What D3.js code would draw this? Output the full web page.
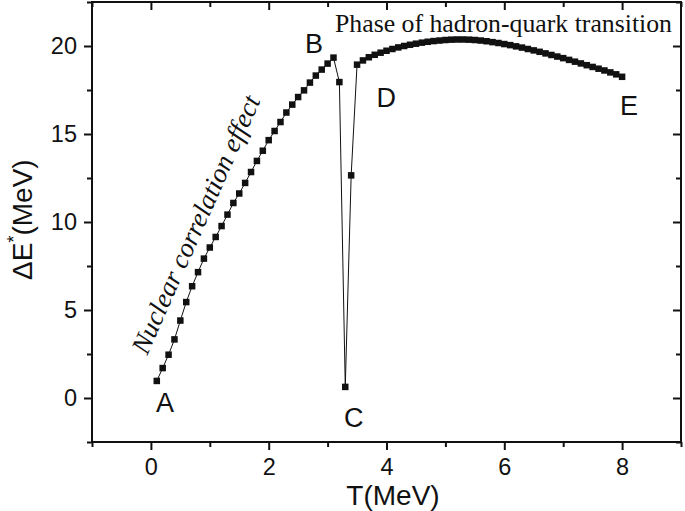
<!DOCTYPE html>
<html>
<head>
<meta charset="utf-8">
<script src="https://cdn.jsdelivr.net/npm/d3@7/dist/d3.min.js"></script>
<style>
  html, body { margin: 0; padding: 0; background: #fff; }
  svg { display: block; }
  .sans { font-family: "Liberation Sans", Arial, sans-serif; }
  .serif { font-family: "Liberation Serif", "Times New Roman", serif; }
</style>
</head>
<body>
<svg id="chart" width="685" height="511"></svg>
<script>
// ---- data ----
const temps = [
  0.1,0.2,0.3,0.4,0.5,0.6,0.7,0.8,0.9,1.0,
  1.1,1.2,1.3,1.4,1.5,1.6,1.7,1.8,1.9,2.0,
  2.1,2.2,2.3,2.4,2.5,2.6,2.7,2.8,2.9,3.0,
  3.1,3.2,3.3,3.4,3.5,3.6,3.7,3.8,3.9,4.0,
  4.1,4.2,4.3,4.4,4.5,4.6,4.7,4.8,4.9,5.0,
  5.1,5.2,5.3,5.4,5.5,5.6,5.7,5.8,5.9,6.0,
  6.1,6.2,6.3,6.4,6.5,6.6,6.7,6.8,6.9,7.0,
  7.1,7.2,7.3,7.4,7.5,7.6,7.7,7.8,7.9,8.0
];
const deltaE = [
  0.97,1.70,2.46,3.33,4.40,5.45,6.35,7.15,7.92,8.55,
  9.15,9.77,10.42,11.08,11.62,12.22,12.84,13.47,14.05,14.65,
  15.17,15.68,16.22,16.67,17.10,17.48,17.92,18.32,18.66,19.00,
  19.34,17.95,0.63,12.65,18.94,19.18,19.36,19.50,19.62,19.73,
  19.83,19.92,20.00,20.07,20.13,20.19,20.24,20.28,20.31,20.34,
  20.36,20.37,20.37,20.36,20.34,20.31,20.27,20.22,20.17,20.11,
  20.05,19.98,19.91,19.83,19.75,19.67,19.58,19.49,19.40,19.31,
  19.21,19.11,19.01,18.91,18.81,18.71,18.61,18.50,18.39,18.25
];
const xMajorTicks = [0, 2, 4, 6, 8];
const xMinorTicks = [-1, 1, 3, 5, 7, 9];
const yMajorTicks = [0, 5, 10, 15, 20];
const yMinorTicks = [-2.5, 2.5, 7.5, 12.5, 17.5, 22.5];
const pointLabels = ["A", "B", "C", "D", "E"];
const pointLabelPos = [[156, 411.5], [305, 53.3], [344, 426.7], [376.5, 106.5], [620, 115]];
const xTitle = "T(MeV)";
const annotTop = "Phase of hadron-quark transition";
const annotSide = "Nuclear correlation effect";

// ---- layout ----
const svg = d3.select("#chart");
const L = 92, R = 681, T = 2, B = 442;
const x = d3.scaleLinear().domain([-1, 9]).range([L, R]);
const y = d3.scaleLinear().domain([-2.5, 22.5]).range([B, T]);

const axisStyle = g => {
  g.select(".domain").remove();
  g.selectAll("line").attr("stroke", "#111").attr("stroke-width", 2);
  g.selectAll("text").attr("fill", "#111").attr("class", "sans").attr("font-size", 23.5);
};

// bottom axis
svg.append("g").attr("transform", `translate(0,${B})`)
  .call(d3.axisBottom(x).tickValues(xMajorTicks).tickSize(8).tickPadding(8).tickFormat(d3.format("d")))
  .call(axisStyle);
svg.append("g").attr("transform", `translate(0,${B})`)
  .call(d3.axisBottom(x).tickValues(xMinorTicks).tickSize(5).tickFormat(""))
  .call(axisStyle);
// top axis (inward)
svg.append("g").attr("transform", `translate(0,${T})`)
  .call(d3.axisBottom(x).tickValues(xMajorTicks).tickSize(8).tickFormat(""))
  .call(axisStyle);
svg.append("g").attr("transform", `translate(0,${T})`)
  .call(d3.axisBottom(x).tickValues(xMinorTicks).tickSize(5).tickFormat(""))
  .call(axisStyle);
// left axis
svg.append("g").attr("transform", `translate(${L},0)`)
  .call(d3.axisLeft(y).tickValues(yMajorTicks).tickSize(8).tickPadding(7).tickFormat(d3.format("d")))
  .call(axisStyle);
svg.append("g").attr("transform", `translate(${L},0)`)
  .call(d3.axisLeft(y).tickValues(yMinorTicks).tickSize(5).tickFormat(""))
  .call(axisStyle);
// right axis (inward)
svg.append("g").attr("transform", `translate(${R},0)`)
  .call(d3.axisLeft(y).tickValues(yMajorTicks).tickSize(8).tickFormat(""))
  .call(axisStyle);
svg.append("g").attr("transform", `translate(${R},0)`)
  .call(d3.axisLeft(y).tickValues(yMinorTicks).tickSize(5).tickFormat(""))
  .call(axisStyle);

// frame
svg.append("rect").attr("x", L).attr("y", T).attr("width", R - L).attr("height", B - T)
  .attr("fill", "none").attr("stroke", "#111").attr("stroke-width", 2);

// data
const pts = temps.map((t, i) => [t, deltaE[i]]);
svg.append("path").datum(pts)
  .attr("fill", "none").attr("stroke", "#111").attr("stroke-width", 1)
  .attr("d", d3.line().x(d => x(d[0])).y(d => y(d[1])));
const s = 6.5;
svg.append("g").selectAll("rect").data(pts).join("rect")
  .attr("x", d => x(d[0]) - s / 2).attr("y", d => y(d[1]) - s / 2)
  .attr("width", s).attr("height", s).attr("fill", "#111");

// point labels
svg.append("g").selectAll("text").data(pointLabels).join("text")
  .attr("class", "sans").attr("font-size", 27).attr("fill", "#111")
  .attr("x", (d, i) => pointLabelPos[i][0]).attr("y", (d, i) => pointLabelPos[i][1])
  .text(d => d);

// axis titles
svg.append("text").attr("class", "sans").attr("font-size", 28).attr("fill", "#111")
  .attr("text-anchor", "middle").attr("x", 393).attr("y", 504.5).text(xTitle);

const yt = svg.append("text").attr("class", "sans").attr("font-size", 28).attr("fill", "#111")
  .attr("transform", "translate(31.5,280) rotate(-90)");
yt.append("tspan").text("ΔE");
yt.append("tspan").attr("font-size", 18).attr("dy", -12).text("*");
yt.append("tspan").attr("dy", 12).text("(MeV)");

// annotations
svg.append("text").attr("class", "serif").attr("font-size", 24.5).attr("fill", "#111")
  .attr("x", 335).attr("y", 31.5).attr("textLength", 337).attr("lengthAdjust", "spacingAndGlyphs")
  .text(annotTop);
svg.append("text").attr("class", "serif").attr("font-size", 27).attr("font-style", "italic").attr("fill", "#111")
  .attr("text-anchor", "middle")
  .attr("transform", "translate(204,228) rotate(-66)")
  .text(annotSide);
</script>
</body>
</html>
